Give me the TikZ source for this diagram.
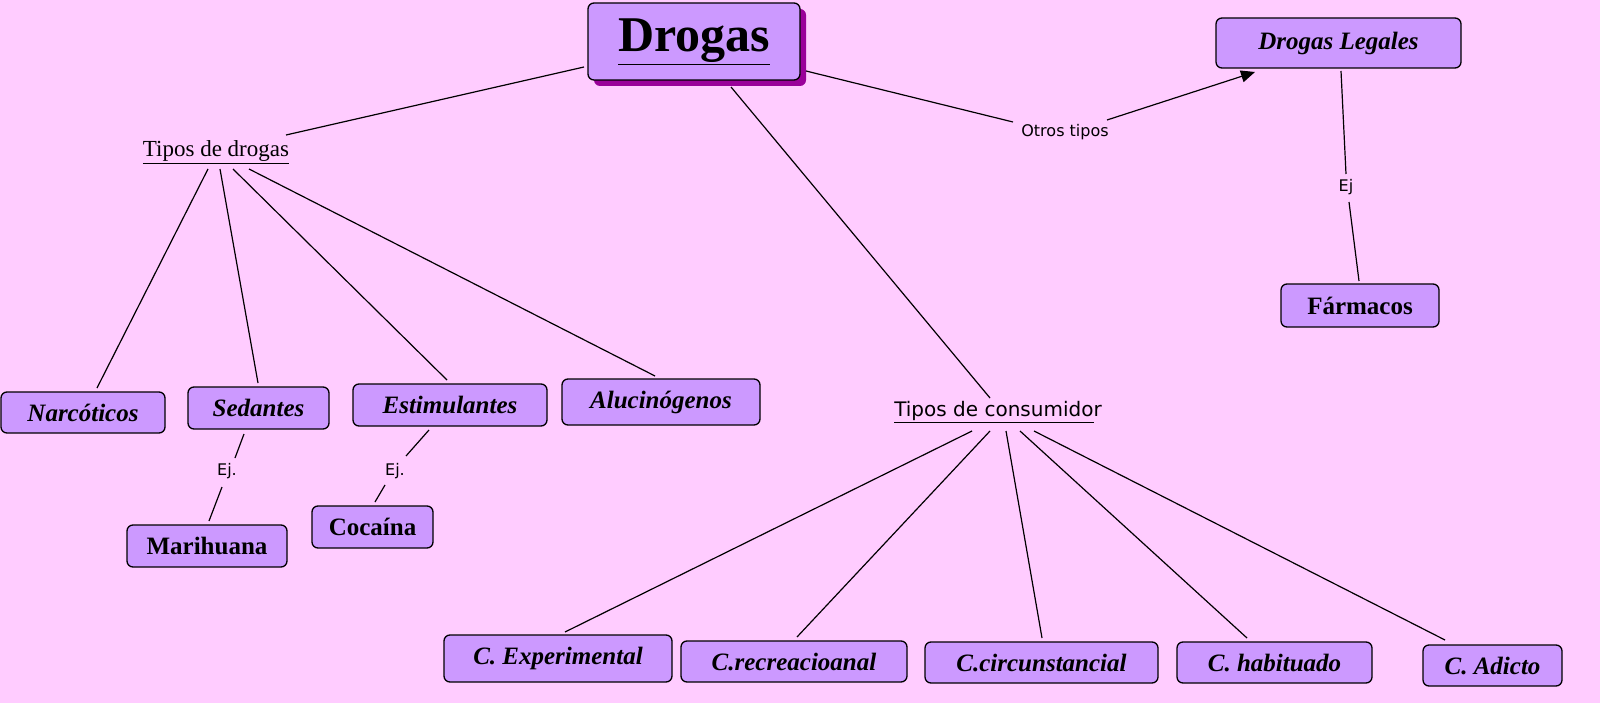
\documentclass[tikz,border=0pt]{standalone}
\usepackage{fontspec}
\setmainfont{Liberation Serif}
\newfontfamily\vsans{DejaVu Sans}
\usetikzlibrary{arrows.meta}
\definecolor{bg}{HTML}{FFCCFF}
\definecolor{boxc}{HTML}{CC99FF}
\definecolor{shad}{HTML}{990099}
\begin{document}
\begin{tikzpicture}[x=1pt,y=-1pt,
  bx/.style={draw=black,fill=boxc,rounded corners=6pt,line width=1.3pt,inner sep=0pt,font=\fontsize{25}{28}\selectfont\bfseries\itshape},
  bxu/.style={bx,font=\fontsize{25}{28}\selectfont\bfseries},
  lab/.style={inner sep=0pt,font=\vsans\fontsize{16}{19}\selectfont},
  ln/.style={line width=1.2pt}]
\fill[bg] (0,0) rectangle (1600,703);
\useasboundingbox (0,0) rectangle (1600,703);
\newcommand\bxat[6]{\node[#1,minimum width=#4-#2,minimum height=#5-#3] (#6) at ({(#2+#4)/2},{(#3+#5)/2})}
\fill[shad,rounded corners=6pt] (594,9) rectangle (806,86);
\bxat{bxu}{588}{3}{800}{80}{drogas} {\fontsize{50}{54}\selectfont\underline{Drogas}};
\bxat{bx}{1216}{18}{1461}{68}{legal} {Drogas Legales};
\bxat{bxu}{1281}{284}{1439}{327}{farm} {Fármacos};
\bxat{bx}{1}{392}{165}{433}{narc} {Narcóticos};
\bxat{bx}{188}{387}{329}{429}{sed} {Sedantes};
\bxat{bx}{353}{384}{547}{426}{est} {Estimulantes};
\bxat{bx}{562}{379}{760}{425}{aluc} {Alucinógenos};
\bxat{bxu}{127}{525}{287}{567}{mari} {Marihuana};
\bxat{bxu}{312}{506}{433}{548}{coca} {Cocaína};
\bxat{bx}{444}{635}{672}{682}{exp} {C. Experimental};
\bxat{bx}{681}{641}{907}{682}{rec} {C.recreacioanal};
\bxat{bx}{925}{642}{1158}{683}{cir} {C.circunstancial};
\bxat{bx}{1177}{642}{1372}{683}{hab} {C. habituado};
\bxat{bx}{1423}{645}{1562}{686}{adi} {C. Adicto};
\node[inner sep=0pt,font=\fontsize{23}{26}\selectfont] (td) at (216,152) {\underline{Tipos de drogas}};
\node[inner sep=0pt,font=\vsans\fontsize{20}{23}\selectfont] (tc) at (998,412) {\underline{Tipos de consumido}r};
\node[lab] (otros) at (1065,132) {Otros tipos};
\node[lab] (ej1) at (1346,187) {Ej};
\node[lab] (ej2) at (227,471) {Ej.};
\node[lab] (ej3) at (395,471) {Ej.};
% connector endpoints
\foreach \n/\x/\y in {a1/584/67,a2/286/135,b1/731/87,b2/990/398,c1/806/71,c2/1013/122,c3/1107/120,c4/1255/72,
 d1/1341/71,d2/1346/174,d3/1349/202,d4/1359/281,
 e1/208/169,e2/97/388,f1/220/169,f2/258/383,g1/233/169,g2/447/380,h1/249/169,h2/655/376,
 i1/244/434,i2/235/458,i3/222/487,i4/209/521,j1/429/430,j2/406/456,j3/385/485,j4/375/502,
 k1/972/431,k2/565/632,l1/990/431,l2/797/637,m1/1006/431,m2/1042/638,n1/1020/431,n2/1247/638,o1/1034/431,o2/1445/640}
 \coordinate (\n) at (\x,\y);
\draw[ln] (a1)--(a2); \draw[ln] (b1)--(b2); \draw[ln] (c1)--(c2);
\draw[ln,-{Triangle[length=14pt,width=12pt]}] (c3)--(c4);
\draw[ln] (d1)--(d2); \draw[ln] (d3)--(d4);
\draw[ln] (e1)--(e2); \draw[ln] (f1)--(f2); \draw[ln] (g1)--(g2); \draw[ln] (h1)--(h2);
\draw[ln] (i1)--(i2); \draw[ln] (i3)--(i4); \draw[ln] (j1)--(j2); \draw[ln] (j3)--(j4);
\draw[ln] (k1)--(k2); \draw[ln] (l1)--(l2); \draw[ln] (m1)--(m2); \draw[ln] (n1)--(n2); \draw[ln] (o1)--(o2);
\end{tikzpicture}
\end{document}
